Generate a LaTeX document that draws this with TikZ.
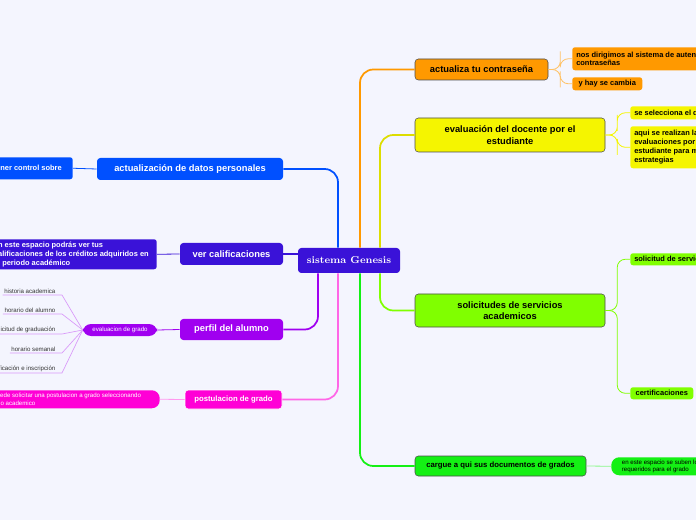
\documentclass[tikz,border=0pt]{standalone}
\usepackage{fontspec}
\setsansfont{Liberation Sans}
\begin{document}
\begin{tikzpicture}[x=0.75pt,y=-0.75pt,
  box/.style={rectangle,rounded corners=2.5pt,inner sep=0pt,font=\sffamily\bfseries,align=center},
  sub/.style={rectangle,rounded corners=2pt,inner xsep=3pt,inner ysep=0pt,font=\sffamily\bfseries\fontsize{5.6}{6.6}\selectfont,align=left,text=black},
  pill/.style={rectangle,rounded corners=6pt,inner xsep=8pt,inner ysep=0pt,font=\sffamily\fontsize{4.6}{5.4}\selectfont,align=left},
  leaf/.style={font=\sffamily\fontsize{4.6}{5}\selectfont,text=black!80,anchor=south east,inner sep=1pt},
  con/.style={line width=1.3pt,rounded corners=10pt},
  thin/.style={line width=0.6pt,rounded corners=6pt}]
\useasboundingbox (0,0) rectangle (696,520);
\fill[fill={rgb,255:red,244;green,245;blue,254}] (0,0) rectangle (696,520);
\clip (0,0) rectangle (696,520);
\definecolor{cblue}{RGB}{0,80,255}
\definecolor{cind}{RGB}{58,18,216}
\definecolor{cpur}{RGB}{160,0,240}
\definecolor{cpink}{RGB}{255,0,214}
\definecolor{corg}{RGB}{255,153,0}
\definecolor{cyel}{RGB}{245,245,0}
\definecolor{clg}{RGB}{128,255,0}
\definecolor{cdg}{RGB}{20,240,20}
% center
\node[box,fill=cind,text=white,minimum width=102*0.75pt,minimum height=25*0.75pt,font=\bfseries\fontsize{7.5}{9}\selectfont] (g) at (349,260.5) {sistema Genesis};
% right main
\node[box,fill=corg,draw=black!70,minimum width=133*0.75pt,minimum height=21*0.75pt,font=\sffamily\bfseries\fontsize{7}{8}\selectfont] (a) at (481.5,69.5) {actualiza tu contraseña};
\node[box,fill=cyel,draw=black!70,minimum width=190*0.75pt,minimum height=34*0.75pt,font=\sffamily\bfseries\fontsize{7}{8.5}\selectfont] (e) at (510,135) {evaluación del docente por el\\estudiante};
\node[box,fill=clg,draw=black!70,minimum width=190*0.75pt,minimum height=33*0.75pt,font=\sffamily\bfseries\fontsize{7}{8.5}\selectfont] (s) at (510,310.5) {solicitudes de servicios\\academicos};
\node[box,fill=cdg,draw=black!70,minimum width=171*0.75pt,minimum height=20*0.75pt,font=\sffamily\bfseries\fontsize{5.8}{7}\selectfont] (c) at (500.5,466) {cargue a qui sus documentos de grados};
% right subs
\node[sub,fill=corg,anchor=north west,minimum width=135*0.75pt,minimum height=23*0.75pt] (a1) at (572,47) {nos dirigimos al sistema de autenticación y\\contraseñas};
\node[sub,fill=corg,anchor=north west,minimum width=70*0.75pt,minimum height=13*0.75pt] (a2) at (572,77) {y hay se cambia};
\node[sub,fill=cyel,anchor=north west,minimum width=75*0.75pt,minimum height=13*0.75pt] (e1) at (630,106) {se selecciona el docente};
\node[sub,fill=cyel,anchor=north west,minimum width=75*0.75pt,minimum height=42*0.75pt] (e2) at (630,126) {aqui se realizan las\\evaluaciones por el\\estudiante para mejorar\\estrategias};
\node[sub,fill=clg,anchor=north west,minimum width=75*0.75pt,minimum height=12*0.75pt] (s1) at (630,253) {solicitud de servicios};
\node[sub,fill=clg,anchor=north west,minimum width=63*0.75pt,minimum height=12*0.75pt] (s2) at (630,387) {certificaciones};
\node[pill,fill=cdg,anchor=north west,minimum width=95*0.75pt,minimum height=18*0.75pt] (c1) at (611,457) {en este espacio se suben los documentos\\requeridos para el grado};
% left main
\node[box,fill=cblue,text=white,minimum width=186*0.75pt,minimum height=22*0.75pt,font=\sffamily\bfseries\fontsize{7}{8}\selectfont] (d) at (190,169) {actualización de datos personales};
\node[box,fill=cind,text=white,minimum width=103*0.75pt,minimum height=22*0.75pt,font=\sffamily\bfseries\fontsize{7}{8}\selectfont] (v) at (231.5,254) {ver calificaciones};
\node[box,fill=cpur,text=white,minimum width=103*0.75pt,minimum height=21*0.75pt,font=\sffamily\bfseries\fontsize{7}{8}\selectfont] (p) at (231.5,329.5) {perfil del alumno};
\node[box,fill=cpink,text=white,draw=white,minimum width=97*0.75pt,minimum height=19*0.75pt,font=\sffamily\bfseries\fontsize{5.8}{7}\selectfont] (q) at (233.5,399.5) {postulacion de grado};
% left subs
\node[sub,fill=cblue,text=white,anchor=north east,minimum width=90*0.75pt,minimum height=22*0.75pt,inner xsep=8pt] (d1) at (73,157) {tener control sobre};
\node[sub,fill=cind,text=white,anchor=north east,minimum height=30*0.75pt,inner xsep=6pt] (v1) at (157,239) {en este espacio podrás ver tus\\calificaciones de los créditos adquiridos en\\el periodo académico};
\node[pill,fill=cpur,text=white,minimum width=74*0.75pt,minimum height=12*0.75pt,align=center,inner xsep=0pt] (p1) at (120,330) {evaluacion de grado};
\node[pill,fill=cpink,text=white,anchor=north east,minimum height=18*0.75pt,inner xsep=14pt] (q1) at (160,390) {se puede solicitar una postulacion a grado seleccionando\\el ciclo academico};
% leaves
\node[leaf] (l1) at (57,295) {historia academica};
\node[leaf] (l2) at (57,314) {horario del alumno};
\node[leaf] (l3) at (57,334) {solicitud de graduación};
\node[leaf] (l4) at (57,353) {horario semanal};
\node[leaf] (l5) at (57,373) {calificación e inscripción};
% main connectors
\draw[con,corg] (g.north) ++(11,0) |- (a.west);
\draw[con,cyel!90!black] (g.north) ++(31,0) |- (e.west);
\draw[con,clg] (g.south) ++(31,0) |- (s.west);
\draw[con,cdg] (g.south) ++(11,0) |- (c.west);
\draw[con,cblue] (g.north) ++(-11,0) |- (d.east);
\draw[con,cind] (v.east) -- (g.west |- v.east);
\draw[con,cpur] (g.south) ++(-31,0) |- (p.east);
\draw[con,cpink!60] (g.south) ++(-11,0) |- (q.east);
% sub connectors
\draw[thin,corg!60] (a.east) -| ++(12,-10) |- (a1.west);
\draw[thin,corg!60] (a.east) -| ++(12,10) |- (a2.west);
\draw[thin,cyel] (e.east) -| ++(12,-12) |- (e1.west);
\draw[thin,cyel] (e.east) -| ++(12,12) |- (e2.west);
\draw[thin,clg] (s.east) -| ++(12,-20) |- (s1.west);
\draw[thin,clg] (s.east) -| ++(12,20) |- (s2.west);
\draw[thin,cdg!50] (c.east) -- (c1.west);
\draw[thin,cblue] (d.west) -- (d1.east);
\draw[thin,cind] (v.west) -- (v1.east);
\draw[thin,cpur] (p.west) -- (p1.east);
\draw[thin,cpink!40] (q.west) -- (q1.east);
\foreach \l in {l1,l2,l3,l4,l5}{
  \draw[cpur!40,line width=0.5pt] (\l.south west) -- (\l.south east) -- ++(5,0) -- (p1.west);
}
\end{tikzpicture}
\end{document}
